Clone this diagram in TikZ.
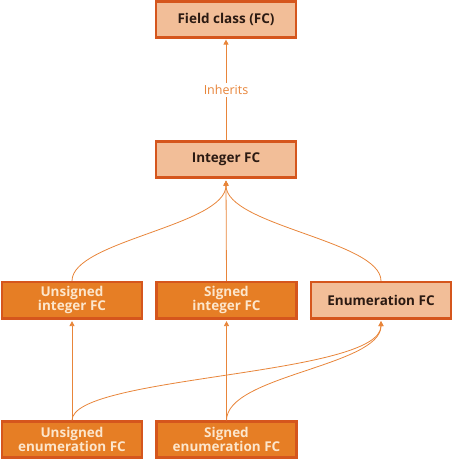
\documentclass[tikz,border=0pt]{standalone}
\usepackage{fontspec}
\setmainfont{Open Sans}
\usetikzlibrary{arrows.meta}
\definecolor{bordc}{HTML}{D5561D}
\definecolor{darkfill}{HTML}{E67E25}
\definecolor{lightfill}{HTML}{F2BE98}
\definecolor{lighttext}{HTML}{FCE6CC}
\definecolor{darktext}{HTML}{2B1A12}
\definecolor{arrc}{HTML}{E8853A}
\tikzset{
  box/.style={draw=bordc, line width=2.2pt, minimum width=140pt, minimum height=36pt,
    inner sep=0pt, align=center, font=\bfseries\fontsize{13.5}{13.5}\selectfont},
  darkbox/.style={box, fill=darkfill, text=lighttext},
  lightbox/.style={box, fill=lightfill, text=darktext},
  conn/.style={draw=arrc, line width=0.8pt, -{Triangle[length=5pt,width=5pt]}},
}
\newcommand{\thickbottom}[1]{\draw[bordc, line width=2.5pt] ([yshift=0.6pt]#1.south west) -- ([yshift=0.6pt]#1.south east);}
\begin{document}
\begin{tikzpicture}[x=1pt,y=-1pt]
\useasboundingbox (0,0) rectangle (453,460);
\node[lightbox] (fc) at (226,19.5) {Field class (FC)};
\node[lightbox] (int) at (226,159.5) {Integer FC};
\node[darkbox] (uint) at (72,300) {Unsigned\\integer FC};
\node[darkbox] (sint) at (226.5,300) {Signed\\integer FC};
\node[lightbox] (enum) at (381,300) {Enumeration FC};
\node[darkbox] (uenum) at (72,439.5) {Unsigned\\enumeration FC};
\node[darkbox] (senum) at (226.5,439.5) {Signed\\enumeration FC};
\foreach \n in {fc,int,uint,sint,enum,uenum,senum}{\thickbottom{\n}}
\draw[conn] (int.north) -- node[fill=white, text=arrc, font=\fontsize{12.5}{12.5}\selectfont, inner sep=2pt] (inh) {Inherits} ([yshift=-1pt]fc.south);
\draw[conn] (uint.north) .. controls ++(0,-40) and ++(0,45) .. ([yshift=-2pt]int.south);
\draw[conn] (sint.north) -- ([yshift=-2pt]int.south);
\draw[conn] (enum.north) .. controls ++(0,-40) and ++(0,45) .. ([yshift=-2pt]int.south);
\draw[conn] (uenum.north) -- ([yshift=-2pt]uint.south);
\draw[conn] (senum.north) -- ([yshift=-2pt]sint.south);
\draw[conn] (uenum.north) .. controls ++(0,-45) and ++(0,55) .. ([yshift=-2pt]enum.south);
\draw[conn] (senum.north) .. controls ++(0,-45) and ++(0,45) .. ([yshift=-2pt]enum.south);
\end{tikzpicture}
\end{document}
